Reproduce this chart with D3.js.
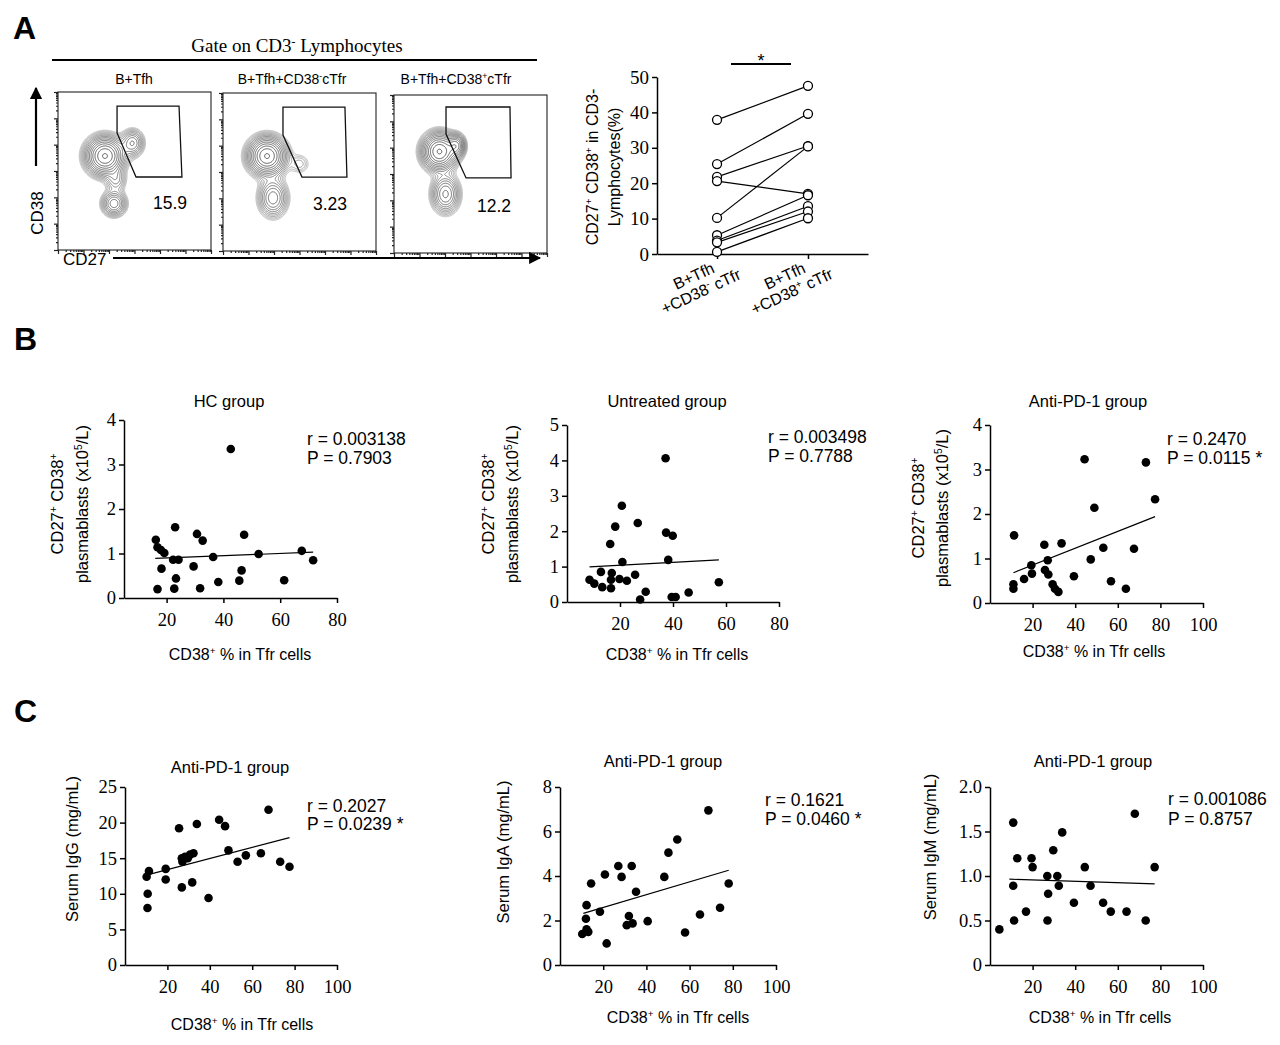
<!DOCTYPE html>
<html>
<head>
<meta charset="utf-8">
<script src="https://cdn.jsdelivr.net/npm/d3@7"></script>
<style>
  body { margin: 0; background: #fff; }
  svg { display: block; }
  text { font-family: Arial, "Liberation Sans", sans-serif; fill: #000; }
  text.serif, .serif text { font-family: "Liberation Serif", "Times New Roman", serif !important; }
</style>
</head>
<body>
<svg id="fig" width="1280" height="1045"></svg>
<script>
// ---------------- data ----------------

// panel A, flow plots (plot coordinates 0..100 on both axes)
const flowNames = [
  [["B+Tfh", ""]],
  [["B+Tfh+CD38", ""], ["-", "sup"], ["cTfr", ""]],
  [["B+Tfh+CD38", ""], ["+", "sup"], ["cTfr", ""]]
];
const flowPct = ["15.9", "3.23", "12.2"];
const flowGates = [
  [[38.6, 91.1], [79.1, 91.1], [81.0, 46.2], [51.0, 46.2], [38.6, 74.1]],
  [[39.2, 91.1], [79.7, 91.1], [81.0, 46.8], [51.6, 46.8], [39.2, 73.4]],
  [[34.0, 92.4], [75.8, 92.4], [76.5, 47.5], [47.1, 47.5], [34.0, 75.3]]
];
// populations: [centre x, centre y, spread x, spread y, weight]
const flowPops = [
  [[30.7, 59.5, 6.5, 6.3, 1], [48.7, 67.7, 4.1, 4.7, 0.3], [37.9, 44.3, 3.9, 4.4, 0.15], [36.6, 29.4, 4.4, 4.4, 0.35]],
  [[28.8, 60.1, 6.5, 6.3, 1], [32.7, 33.6, 5.2, 6.6, 0.35], [50.3, 55.1, 4.1, 4.0, 0.08]],
  [[29.7, 64.2, 5.9, 6.1, 1], [40.8, 68.0, 3.1, 3.9, 0.45], [33.7, 37.3, 5.0, 6.5, 0.4]]
];

// panel A, paired plot
const pairCats = ["minus", "plus"];
const pairCatLabels = [
  [[["B+Tfh", ""]], [["+CD38", ""], ["-", "sup"], [" cTfr", ""]]],
  [[["B+Tfh", ""]], [["+CD38", ""], ["+", "sup"], [" cTfr", ""]]]
];
const pairBefore = [37.9, 25.4, 21.8, 20.6, 10.2, 5.3, 3.8, 3.3, 0.6];
const pairAfter  = [47.5, 39.6, 30.5, 17.0, 30.4, 16.6, 13.5, 12.0, 10.1];

// panel B
const hcX = [16.2, 16.8, 18.0, 19.2, 18.2, 16.8, 23.0, 22.3, 24.2, 23.3, 22.7, 29.5, 30.7, 32.7, 31.8, 36.4, 38.2, 42.6, 45.6, 46.4, 47.3, 52.4, 61.4, 67.6, 71.6];
const hcY = [1.31, 1.14, 1.08, 1.01, 0.66, 0.20, 1.59, 0.86, 0.86, 0.44, 0.21, 0.71, 1.44, 1.29, 0.22, 0.92, 0.36, 3.35, 0.39, 0.62, 1.42, 0.99, 0.40, 1.06, 0.85];
const hcFit = [[16.0, 0.89], [71.6, 1.03]];

const untX = [8.5, 10.3, 13.3, 12.8, 16.6, 16.6, 16.9, 16.3, 18.2, 19.8, 20.7, 20.9, 22.6, 25.7, 26.7, 27.6, 29.7, 37.2, 37.4, 38.2, 39.9, 39.5, 41.0, 45.9, 57.3];
const untY = [0.63, 0.52, 0.42, 0.85, 0.39, 0.63, 0.82, 1.64, 2.13, 0.65, 2.72, 1.13, 0.60, 0.77, 2.23, 0.07, 0.29, 4.06, 1.96, 1.19, 1.87, 0.14, 0.14, 0.27, 0.56];
const untFit = [[8.5, 0.99], [57.3, 1.19]];

const pdX = [11.3, 11.0, 11.0, 16.0, 19.4, 19.7, 25.5, 25.8, 27.1, 27.4, 29.4, 30.5, 32.1, 33.6, 39.4, 44.4, 47.3, 49.0, 53.2, 56.8, 63.8, 67.6, 73.2, 77.5];
const pdY = [1.52, 0.42, 0.32, 0.54, 0.85, 0.66, 1.31, 0.74, 0.96, 0.64, 0.42, 0.32, 0.25, 1.34, 0.60, 3.23, 0.98, 2.14, 1.24, 0.49, 0.32, 1.22, 3.16, 2.33];
const pdFit = [[11.0, 0.68], [77.5, 1.94]];

// panel C
const iggX = [10.2, 11.3, 10.7, 10.6, 19.2, 19.2, 25.5, 26.8, 27.1, 26.8, 28.3, 29.6, 30.7, 32.3, 31.7, 33.9, 39.4, 44.4, 47.2, 48.8, 53.1, 57.0, 64.1, 67.7, 73.2, 77.6];
const iggY = [12.4, 13.2, 10.0, 8.0, 13.5, 12.0, 19.2, 15.0, 14.5, 10.9, 15.2, 15.0, 15.5, 15.7, 11.6, 19.8, 9.4, 20.4, 19.5, 16.1, 14.5, 15.4, 15.7, 21.8, 14.5, 13.8];
const iggFit = [[11.0, 12.7], [77.6, 17.9]];

const igaX = [10.3, 12.3, 13.1, 12.0, 12.3, 14.4, 18.5, 20.8, 21.6, 27.0, 28.5, 30.9, 31.9, 33.2, 33.6, 35.2, 40.6, 48.3, 50.2, 54.3, 57.9, 64.8, 68.7, 74.1, 78.1];
const igaY = [1.39, 1.60, 1.49, 2.08, 2.69, 3.66, 2.39, 4.07, 0.97, 4.45, 3.96, 1.79, 2.20, 4.45, 1.87, 3.29, 1.97, 3.96, 5.05, 5.64, 1.46, 2.27, 6.95, 2.57, 3.66];
const igaFit = [[10.8, 2.32], [78.1, 4.26]];

const igmX = [4.4, 10.9, 10.9, 11.3, 12.8, 16.9, 19.5, 20.0, 26.9, 27.3, 27.0, 29.7, 31.6, 32.3, 33.9, 39.4, 44.5, 47.2, 53.1, 56.7, 64.1, 68.0, 73.1, 77.3];
const igmY = [0.40, 1.60, 0.89, 0.50, 1.20, 0.60, 1.20, 1.10, 1.00, 0.80, 0.50, 1.29, 1.00, 0.89, 1.49, 0.70, 1.10, 0.89, 0.70, 0.60, 0.60, 1.70, 0.50, 1.10];
const igmFit = [[9.1, 0.964], [77.3, 0.912]];

// ---------------- helpers ----------------
const svg = d3.select("#fig");

// text with superscripts: parts = [[string, "sup" | ""], ...]
function rich(t, parts, fs) {
  let shift = 0;
  parts.forEach(([s, k]) => {
    let ts = t.append("tspan").text(s);
    let target = k === "sup" ? -fs * 0.38 : 0;
    if (target !== shift) { ts.attr("dy", target - shift); shift = target; }
    if (k === "sup") ts.attr("font-size", fs * 0.62);
  });
  return t;
}

function label(x, y, parts, fs, anchor, rot) {
  let t = svg.append("text")
    .attr("font-size", fs)
    .attr("text-anchor", anchor || "start");
  if (rot) t.attr("transform", `translate(${x},${y}) rotate(${rot})`);
  else t.attr("x", x).attr("y", y);
  return rich(t, parts, fs);
}

function styleAxis(a, fs) {
  a.attr("font-family", null).attr("font-size", null).classed("serif", true);
  a.selectAll(".domain, .tick line").attr("stroke", "#000").attr("stroke-width", 1.5);
  a.selectAll("text").attr("font-size", fs).attr("fill", "#000");
}

// ---------------- panel letters ----------------
[["A", 13, 39], ["B", 14, 350], ["C", 14, 722]].forEach(([s, x, y]) => {
  svg.append("text").attr("x", x).attr("y", y).attr("font-size", 32)
    .attr("font-weight", "bold").text(s);
});

// ---------------- panel A: flow plots ----------------
svg.append("text").attr("x", 297).attr("y", 52).attr("font-size", 19)
  .attr("text-anchor", "middle").classed("serif", true)
  .call(t => rich(t, [["Gate on CD3", ""], ["-", "sup"], [" Lymphocytes", ""]], 19));
svg.append("line").attr("x1", 52).attr("x2", 537).attr("y1", 60).attr("y2", 60)
  .attr("stroke", "#000").attr("stroke-width", 1.8);

const flowBox = [[58, 92], [223, 93], [394, 95]];
const flowNameX = [134, 292, 456];
const flowPctPos = [[112, 117], [107, 117], [100, 117]];
const FW = 153, FH = 158;

flowBox.forEach(([bx, by], i) => {
  label(flowNameX[i], 84, flowNames[i], 14, "middle");

  let g = svg.append("g").attr("transform", `translate(${bx},${by})`);
  let xs = d3.scaleLinear([0, 100], [0, FW]);
  let ys = d3.scaleLinear([0, 100], [FH, 0]);

  // density grid from the populations, then contour lines
  let vals = new Float64Array(FW * FH);
  for (let j = 0; j < FH; j++) {
    for (let k = 0; k < FW; k++) {
      let px = xs.invert(k + 0.5), py = ys.invert(j + 0.5), v = 0;
      flowPops[i].forEach(([cx, cy, sx, sy, w]) => {
        v += w * Math.exp(-((px - cx) ** 2 / (2 * sx * sx) + (py - cy) ** 2 / (2 * sy * sy)));
      });
      vals[j * FW + k] = v;
    }
  }
  let thr = d3.range(15).map(n => 0.035 * Math.pow(0.97 / 0.035, n / 14));
  let col = d3.scaleLinear([0, 6, 14], ["#b0b0b0", "#606060", "#333"]);
  g.selectAll("path.cont")
    .data(d3.contours().size([FW, FH]).smooth(true).thresholds(thr)(vals))
    .join("path")
    .attr("class", "cont")
    .attr("d", d3.geoPath())
    .attr("fill", "none")
    .attr("stroke", (d, n) => col(n))
    .attr("stroke-width", 0.8);

  // frame
  g.append("rect").attr("width", FW).attr("height", FH)
    .attr("fill", "none").attr("stroke", "#222").attr("stroke-width", 1.1);

  // log-like ticks on left and bottom edge
  let ly = d3.scaleLog([1, 1e6], [FH, 0]), lx = d3.scaleLog([1, 1e6], [0, FW]);
  let majors = d3.range(0, 7).map(e => 10 ** e);
  let minors = d3.range(0, 6).flatMap(e => d3.range(2, 10).map(m => m * 10 ** e));
  g.append("g").call(d3.axisLeft(ly).tickValues(majors).tickSize(4).tickFormat("").tickSizeOuter(0));
  g.append("g").call(d3.axisLeft(ly).tickValues(minors).tickSize(2).tickFormat("").tickSizeOuter(0));
  g.append("g").attr("transform", `translate(0,${FH})`)
    .call(d3.axisBottom(lx).tickValues(majors).tickSize(4).tickFormat("").tickSizeOuter(0));
  g.append("g").attr("transform", `translate(0,${FH})`)
    .call(d3.axisBottom(lx).tickValues(minors).tickSize(2).tickFormat("").tickSizeOuter(0));
  g.selectAll(".domain").remove();
  g.selectAll(".tick line").attr("stroke", "#222").attr("stroke-width", 1.2);

  // gate
  g.append("path")
    .attr("d", d3.line().x(d => xs(d[0])).y(d => ys(d[1]))(flowGates[i]) + "Z")
    .attr("fill", "none").attr("stroke", "#111").attr("stroke-width", 1.3);

  g.append("text").attr("x", flowPctPos[i][0]).attr("y", flowPctPos[i][1])
    .attr("font-size", 17.5).attr("text-anchor", "middle").text(flowPct[i]);
});

// axis arrows
svg.append("defs").append("marker").attr("id", "arr")
  .attr("viewBox", "0 0 10 10").attr("refX", 9).attr("refY", 5)
  .attr("markerWidth", 5.5).attr("markerHeight", 5.5).attr("orient", "auto")
  .append("path").attr("d", "M0,0L10,5L0,10Z").attr("fill", "#000");
svg.append("line").attr("x1", 36).attr("x2", 36).attr("y1", 166).attr("y2", 88)
  .attr("stroke", "#000").attr("stroke-width", 2.2).attr("marker-end", "url(#arr)");
svg.append("line").attr("x1", 113).attr("x2", 540).attr("y1", 258).attr("y2", 258)
  .attr("stroke", "#000").attr("stroke-width", 2.2).attr("marker-end", "url(#arr)");
label(43, 213, [["CD38", ""]], 17, "middle", -90);
label(63, 265, [["CD27", ""]], 17, "start");

// ---------------- panel A: paired plot ----------------
{
  let x = d3.scalePoint().domain(pairCats).range([657, 868]).padding(0.66);
  let y = d3.scaleLinear([0, 50], [254, 77]);
  let g = svg.append("g");

  let ax = g.append("g").attr("transform", "translate(0,254)")
    .call(d3.axisBottom(x).tickSize(5).tickFormat("").tickSizeOuter(0));
  let ay = g.append("g").attr("transform", "translate(657,0)")
    .call(d3.axisLeft(y).ticks(5).tickSize(5).tickPadding(3).tickSizeOuter(0));
  styleAxis(ax, 19);
  styleAxis(ay, 19);

  g.selectAll("line.pair").data(pairBefore).join("line")
    .attr("x1", x("minus")).attr("x2", x("plus"))
    .attr("y1", d => y(d)).attr("y2", (d, i) => y(pairAfter[i]))
    .attr("stroke", "#000").attr("stroke-width", 1.2);
  [[pairBefore, "minus"], [pairAfter, "plus"]].forEach(([vals, c]) => {
    g.selectAll(null).data(vals).join("circle")
      .attr("cx", x(c)).attr("cy", d => y(d)).attr("r", 4.5)
      .attr("fill", "#fff").attr("stroke", "#000").attr("stroke-width", 1.3);
  });

  // significance
  g.append("line").attr("x1", 731).attr("x2", 791).attr("y1", 64).attr("y2", 64)
    .attr("stroke", "#000").attr("stroke-width", 1.8);
  g.append("text").attr("x", 761).attr("y", 67).attr("font-size", 18)
    .attr("text-anchor", "middle").text("*");

  // labels
  label(598, 167, [["CD27", ""], ["+", "sup"], [" CD38", ""], ["+", "sup"], [" in CD3-", ""]], 16, "middle", -90);
  label(620, 167, [["Lymphocytes(%)", ""]], 16, "middle", -90);
  pairCats.forEach((c, i) => {
    let t = svg.append("g").attr("transform", `translate(${x(c) - 21},${281}) rotate(-25)`);
    pairCatLabels[i].forEach((parts, li) => {
      rich(t.append("text").attr("y", li * 17).attr("font-size", 16).attr("text-anchor", "middle"), parts, 16);
    });
  });
}

// ---------------- panels B and C: scatter plots ----------------
const xLab = [["CD38", ""], ["+", "sup"], [" % in Tfr cells", ""]];
const pbLab1 = [["CD27", ""], ["+", "sup"], [" CD38", ""], ["+", "sup"]];
const pbLab2 = [["plasmablasts (x10", ""], ["5", "sup"], ["/L)", ""]];

function scatter(p) {
  let x = d3.scaleLinear(p.xDom, p.xR);
  let y = d3.scaleLinear(p.yDom, p.yR);
  let g = svg.append("g");

  let ax = g.append("g").attr("transform", `translate(0,${p.yR[0]})`)
    .call(d3.axisBottom(x).tickValues(p.xTicks).tickSize(5).tickPadding(10).tickSizeOuter(0));
  let ay = g.append("g").attr("transform", `translate(${p.xR[0]},0)`)
    .call(d3.axisLeft(y).tickValues(p.yTicks).tickFormat(p.yFmt || (d => d))
      .tickSize(5).tickPadding(3).tickSizeOuter(0));
  styleAxis(ax, 18.5);
  styleAxis(ay, 18.5);

  g.append("path")
    .attr("d", d3.line().x(d => x(d[0])).y(d => y(d[1]))(p.fit))
    .attr("stroke", "#000").attr("stroke-width", 1.2).attr("fill", "none");
  g.selectAll("circle").data(p.xs).join("circle")
    .attr("cx", d => x(d)).attr("cy", (d, i) => y(p.ys[i])).attr("r", 4.3)
    .attr("fill", "#000");

  label(p.title[0], p.title[1], [[p.titleText, ""]], 16.5, "middle");
  label(p.stat[0], p.stat[1], [[p.r, ""]], 17.5, "start");
  label(p.stat[0], p.stat[1] + p.stat[2], [[p.P, ""]], 17.5, "start");
  label(p.xl[0], p.xl[1], xLab, 16, "middle");
  p.yl.forEach(([bx, parts]) => label(bx, p.ylc, parts, 16.5, "middle", -90));
}

scatter({
  xDom: [5, 80], xR: [124, 337], yDom: [0, 4], yR: [598, 420],
  xTicks: [20, 40, 60, 80], yTicks: [0, 1, 2, 3, 4],
  xs: hcX, ys: hcY, fit: hcFit,
  titleText: "HC group", title: [229, 407],
  r: "r = 0.003138", P: "P = 0.7903", stat: [307, 445, 18.5],
  xl: [240, 660], yl: [[63, pbLab1], [88, pbLab2]], ylc: 504
});
scatter({
  xDom: [0, 80], xR: [567, 779], yDom: [0, 5], yR: [602, 425],
  xTicks: [20, 40, 60, 80], yTicks: [0, 1, 2, 3, 4, 5],
  xs: untX, ys: untY, fit: untFit,
  titleText: "Untreated group", title: [667, 407],
  r: "r = 0.003498", P: "P = 0.7788", stat: [768, 443, 19],
  xl: [677, 660], yl: [[494, pbLab1], [518, pbLab2]], ylc: 504
});
scatter({
  xDom: [0, 100], xR: [990, 1203], yDom: [0, 4], yR: [603, 425],
  xTicks: [20, 40, 60, 80, 100], yTicks: [0, 1, 2, 3, 4],
  xs: pdX, ys: pdY, fit: pdFit,
  titleText: "Anti-PD-1 group", title: [1088, 407],
  r: "r = 0.2470", P: "P = 0.0115 *", stat: [1167, 445, 18.5],
  xl: [1094, 657], yl: [[924, pbLab1], [948, pbLab2]], ylc: 508
});
scatter({
  xDom: [0, 100], xR: [125, 337], yDom: [0, 25], yR: [965, 787],
  xTicks: [20, 40, 60, 80, 100], yTicks: [0, 5, 10, 15, 20, 25],
  xs: iggX, ys: iggY, fit: iggFit,
  titleText: "Anti-PD-1 group", title: [230, 773],
  r: "r = 0.2027", P: "P = 0.0239 *", stat: [307, 812, 18],
  xl: [242, 1030], yl: [[78, [["Serum IgG (mg/mL)", ""]]]], ylc: 849
});
scatter({
  xDom: [0, 100], xR: [560, 776], yDom: [0, 8], yR: [965, 787],
  xTicks: [20, 40, 60, 80, 100], yTicks: [0, 2, 4, 6, 8],
  xs: igaX, ys: igaY, fit: igaFit,
  titleText: "Anti-PD-1 group", title: [663, 767],
  r: "r = 0.1621", P: "P = 0.0460 *", stat: [765, 806, 19],
  xl: [678, 1023], yl: [[509, [["Serum IgA (mg/mL)", ""]]]], ylc: 852
});
scatter({
  xDom: [0, 100], xR: [990, 1203], yDom: [0, 2], yR: [965, 787],
  xTicks: [20, 40, 60, 80, 100], yTicks: [0, 0.5, 1, 1.5, 2],
  yFmt: d => d === 0 ? "0" : d.toFixed(1),
  xs: igmX, ys: igmY, fit: igmFit,
  titleText: "Anti-PD-1 group", title: [1093, 767],
  r: "r = 0.001086", P: "P = 0.8757", stat: [1168, 805, 20],
  xl: [1100, 1023], yl: [[936, [["Serum IgM (mg/mL)", ""]]]], ylc: 847
});
</script>
</body>
</html>
